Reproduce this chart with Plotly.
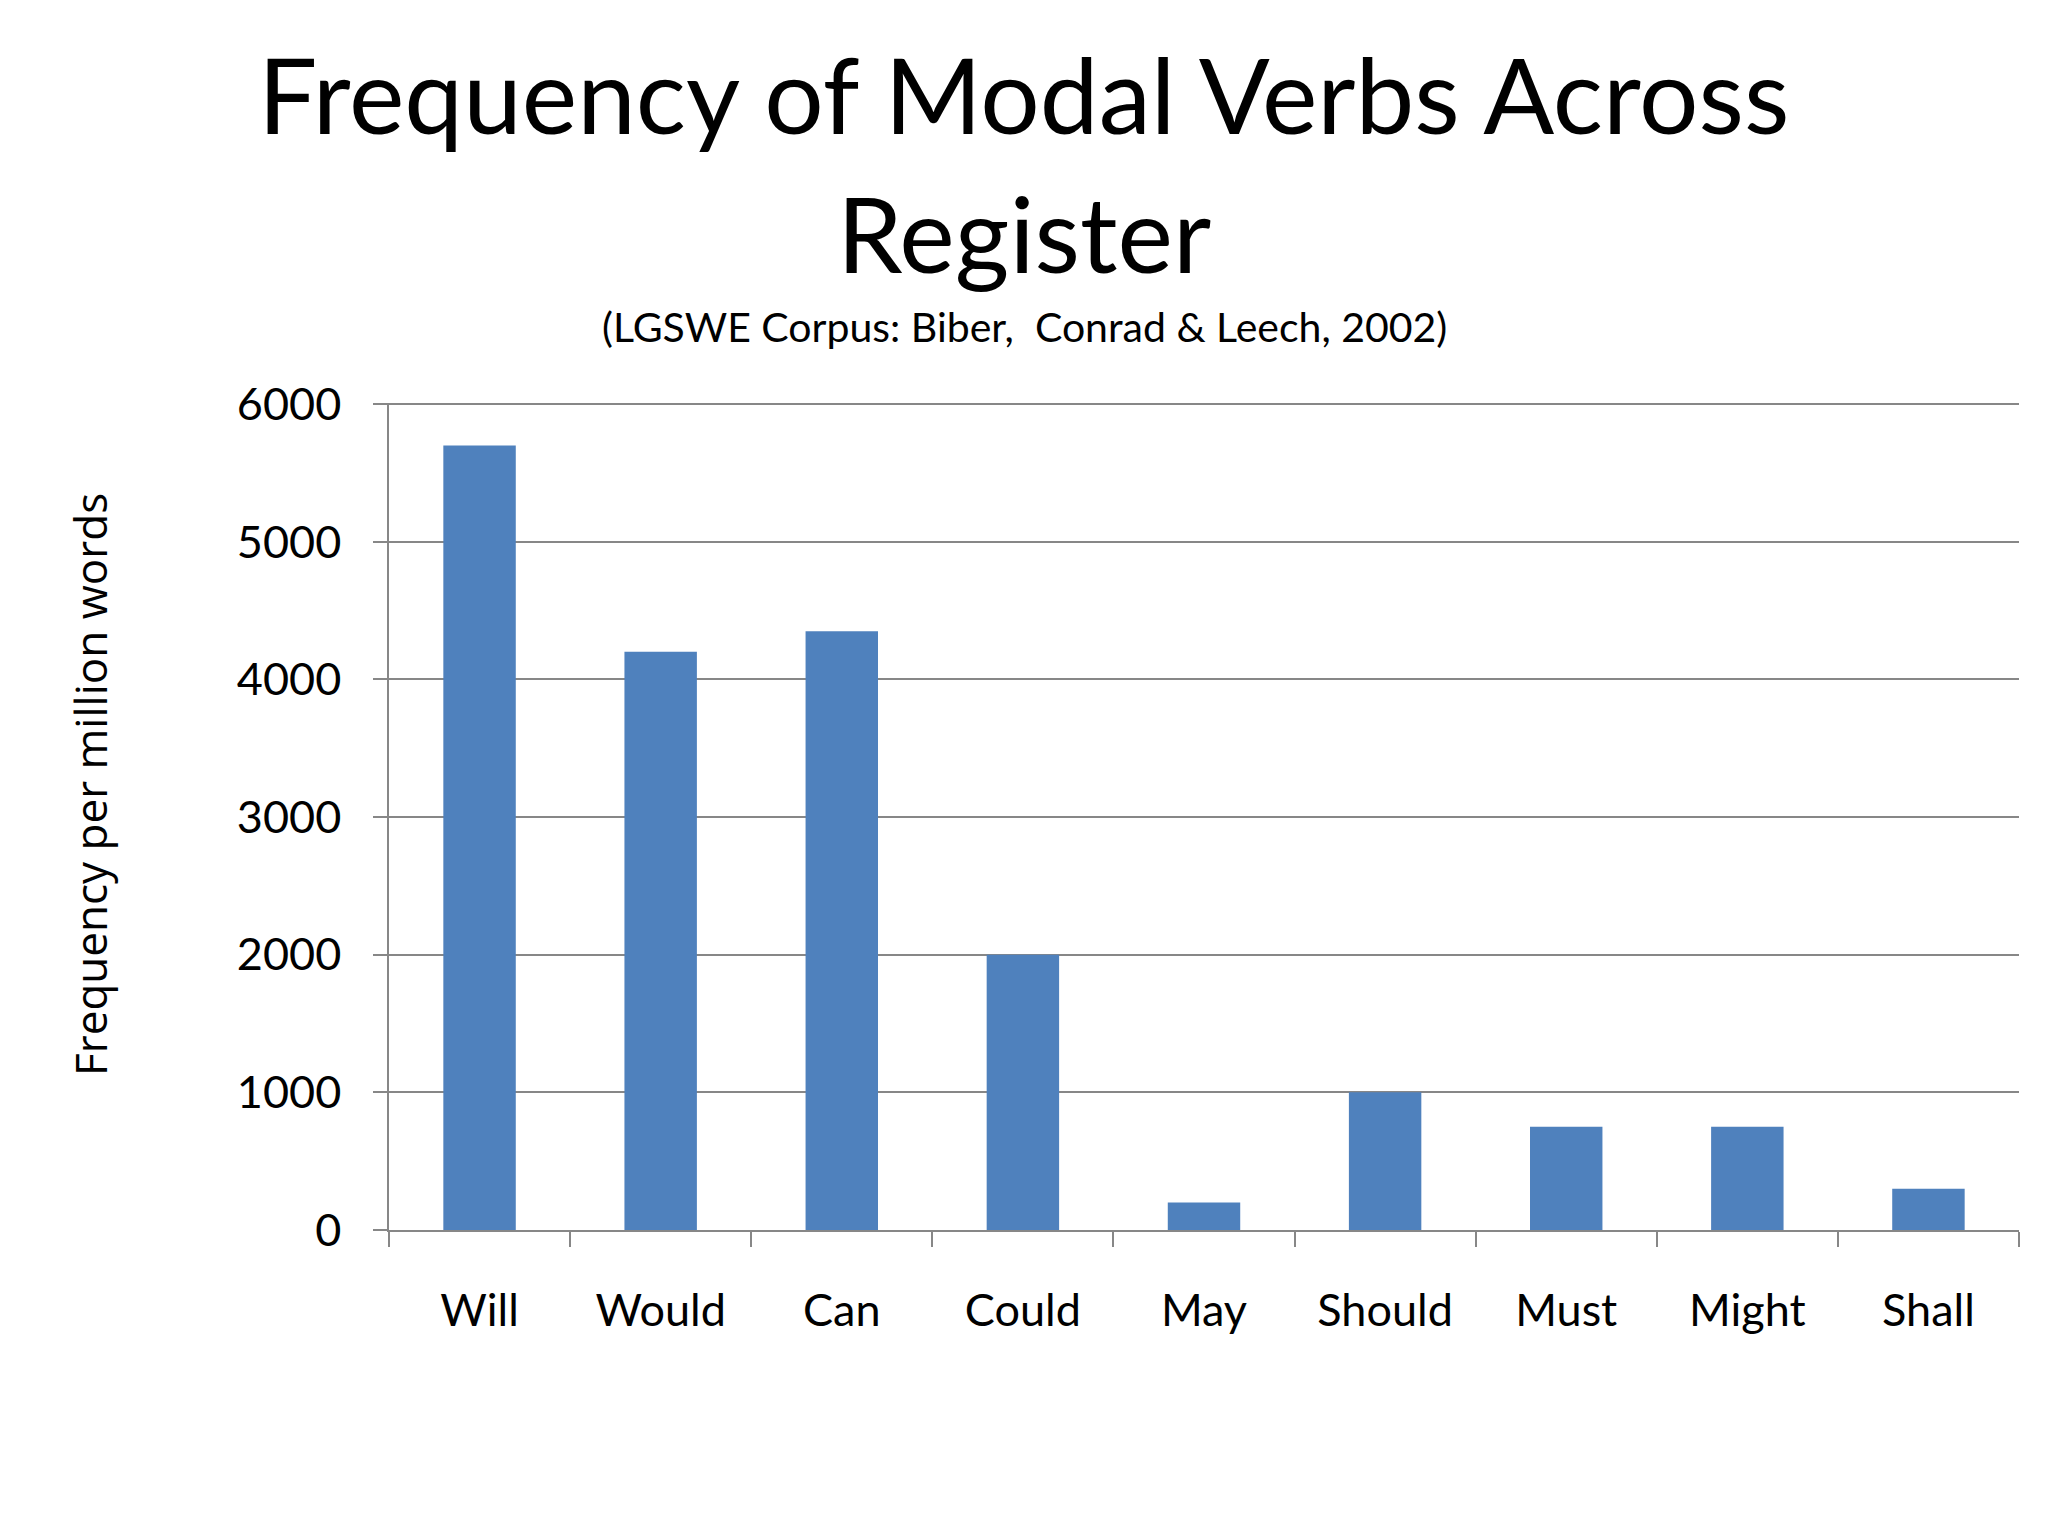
import plotly.graph_objects as go

# modal verb frequencies (per million words)
verbs = ["Will", "Would", "Can", "Could", "May", "Should", "Must", "Might", "Shall"]
freq = [5700, 4200, 4350, 2000, 200, 1000, 750, 750, 300]
y_ticks = [0, 1000, 2000, 3000, 4000, 5000, 6000]

title_line1 = "Frequency of Modal Verbs Across"
title_line2 = "Register"
subtitle = "(LGSWE Corpus: Biber,  Conrad &amp; Leech, 2002)"
y_title = "Frequency per million words"

grid = "#878787"
font = "Lato"

fig = go.Figure(
    go.Bar(x=verbs, y=freq, marker=dict(color="#4F81BD", line=dict(width=0)))
)

# page body adds an 8px offset, so margins are shifted back by 8
fig.update_layout(
    width=2048,
    height=1536,
    margin=dict(l=381, r=37, t=395, b=314),
    paper_bgcolor="white",
    plot_bgcolor="white",
    bargap=0.6,
    showlegend=False,
    font=dict(family=font, color="black"),
)

fig.update_xaxes(
    tickson="boundaries",
    ticks="outside",
    ticklen=15,
    tickcolor=grid,
    tickwidth=1.5,
    showline=True,
    linecolor=grid,
    linewidth=1.5,
    showgrid=False,
    tickfont=dict(size=45, family=font),
    ticklabelstandoff=40,
)
fig.update_yaxes(
    range=[0, 6008],
    tickvals=y_ticks,
    ticks="outside",
    ticklen=14,
    tickcolor=grid,
    tickwidth=1.5,
    showline=True,
    linecolor=grid,
    linewidth=1.5,
    showgrid=True,
    gridcolor=grid,
    gridwidth=1.5,
    zeroline=False,
    tickfont=dict(size=45, family=font),
    ticklabelstandoff=23,
)

annots = [
    dict(text=title_line1, x=0.3896, y=1.375, size=105),
    dict(text=title_line2, x=0.3896, y=1.207, size=105),
    dict(text=subtitle, x=0.3896, y=1.093, size=41),
]
for a in annots:
    fig.add_annotation(
        text=a["text"], x=a["x"], y=a["y"], xref="paper", yref="paper",
        xanchor="center", yanchor="middle", showarrow=False,
        font=dict(size=a["size"], family=font, color="black"),
    )

fig.add_annotation(
    text=y_title, x=-0.183, y=0.539, xref="paper", yref="paper",
    xanchor="center", yanchor="middle", showarrow=False, textangle=-90,
    font=dict(size=44, family="Open Sans", color="black"),
)

fig.write_html("out.html")
